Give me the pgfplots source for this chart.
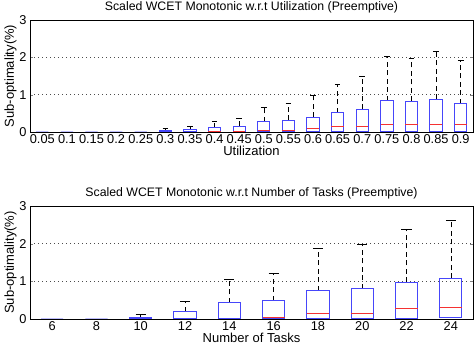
\documentclass[border=0pt]{standalone}
\usepackage{pgfplots}
\pgfplotsset{compat=1.18}
\usepgfplotslibrary{statistics}
\usepackage{fontspec}
\setmainfont{Liberation Sans}
\definecolor{bxblue}{RGB}{70,70,250}
\definecolor{mdred}{RGB}{245,50,50}
\pgfplotsset{
  mybox/.style={
    scale only axis,
    anchor=south west,
    width=443pt,
    xmin=0.5, xmax=#1+0.5,
    ymin=0, ymax=3,
    ytick={0,1,2,3},
    xtick=data,
    tick align=inside,
    major tick length=3pt,
    xtick style={draw=none},
    ymajorgrids,
    grid style={dash pattern=on 1pt off 3pt, black!70, line width=0.6pt},
    axis line style={black, line width=0.6pt},
    ytick pos=both,
    font=\fontsize{13}{15}\selectfont,
    tick label style={font=\fontsize{12.8}{15}\selectfont},
    xticklabel style={yshift=1pt},
    /pgf/number format/assume math mode=true,
    title style={font=\fontsize{12.3}{14}\selectfont, yshift=-3pt},
    xlabel style={yshift=4pt},
    ylabel style={yshift=-4pt},
    boxplot/draw direction=y,
    boxplot/box extend=0.5,
    boxplot/whisker extend=0.23,
    boxplot/draw/box/.code={%
      \draw[bxblue, solid, line width=1pt]
        (boxplot box cs:\pgfplotsboxplotvalue{lower quartile},0) rectangle
        (boxplot box cs:\pgfplotsboxplotvalue{upper quartile},1);
    },
    boxplot/draw/median/.code={%
      \draw[mdred, solid, line width=0.9pt]
        (boxplot box cs:\pgfplotsboxplotvalue{median},0) --
        (boxplot box cs:\pgfplotsboxplotvalue{median},1);
    },
    boxplot/draw/upper whisker/.code={%
      \draw[black, dash pattern=on 5pt off 3.5pt, line width=0.6pt]
        (boxplot cs:\pgfplotsboxplotvalue{upper quartile}) --
        (boxplot cs:\pgfplotsboxplotvalue{upper whisker});
      \draw[black, solid, line width=0.6pt]
        (boxplot whisker cs:\pgfplotsboxplotvalue{upper whisker},0) --
        (boxplot whisker cs:\pgfplotsboxplotvalue{upper whisker},1);
    },
    boxplot/draw/lower whisker/.code={},
  },
}
\newcommand{\bp}[5]{\addplot[draw=bxblue, solid, mark=none, boxplot prepared={draw position=#1, lower whisker=0, lower quartile=#2, median=#3, upper quartile=#4, upper whisker=#5}] coordinates {};}
\begin{document}
\begin{tikzpicture}
\begin{axis}[mybox=18, at={(0pt,0pt)}, height=112pt,
  xtick={1,...,18},
  xticklabels={0.05,0.1,0.15,0.2,0.25,0.3,0.35,0.4,0.45,0.5,0.55,0.6,0.65,0.7,0.75,0.8,0.85,0.9},
  xlabel={Utilization},
  ylabel={Sub-optimality(\%)},
  title={Scaled WCET Monotonic w.r.t Utilization (Preemptive)}]
\bp{1}{0}{0}{0}{0}
\bp{2}{0}{0}{0}{0}
\bp{3}{0}{0}{0}{0}
\bp{4}{0}{0}{0}{0}
\bp{5}{0}{0}{0}{0}
\bp{6}{0}{0}{0.035}{0.11}
\bp{7}{0}{0}{0.06}{0.14}
\bp{8}{0}{0.01}{0.12}{0.28}
\bp{9}{0}{0.01}{0.15}{0.36}
\bp{10}{0}{0.05}{0.27}{0.67}
\bp{11}{0}{0.05}{0.31}{0.76}
\bp{12}{0}{0.09}{0.39}{0.97}
\bp{13}{0}{0.14}{0.52}{1.27}
\bp{14}{0}{0.15}{0.61}{1.50}
\bp{15}{0}{0.20}{0.84}{2.04}
\bp{16}{0}{0.20}{0.82}{1.98}
\bp{17}{0}{0.20}{0.88}{2.16}
\bp{18}{0}{0.19}{0.76}{1.91}
\end{axis}
\begin{axis}[mybox=10, at={(0pt,-187pt)}, height=113pt,
  xtick={1,...,10},
  xticklabels={6,8,10,12,14,16,18,20,22,24},
  xlabel={Number of Tasks},
  ylabel={Sub-optimality(\%)},
  title={Scaled WCET Monotonic w.r.t Number of Tasks (Preemptive)}]
\bp{1}{0}{0}{0}{0}
\bp{2}{0}{0}{0}{0}
\bp{3}{0}{0}{0.045}{0.12}
\bp{4}{0}{0}{0.19}{0.47}
\bp{5}{0}{0}{0.43}{1.06}
\bp{6}{0}{0.05}{0.49}{1.22}
\bp{7}{0}{0.14}{0.75}{1.88}
\bp{8}{0}{0.14}{0.80}{1.99}
\bp{9}{0.02}{0.27}{0.97}{2.38}
\bp{10}{0.05}{0.31}{1.08}{2.62}
\end{axis}
\pgfresetboundingbox
\path[use as bounding box] (-30pt,-215pt) rectangle (444pt,132pt);
\end{tikzpicture}
\end{document}
